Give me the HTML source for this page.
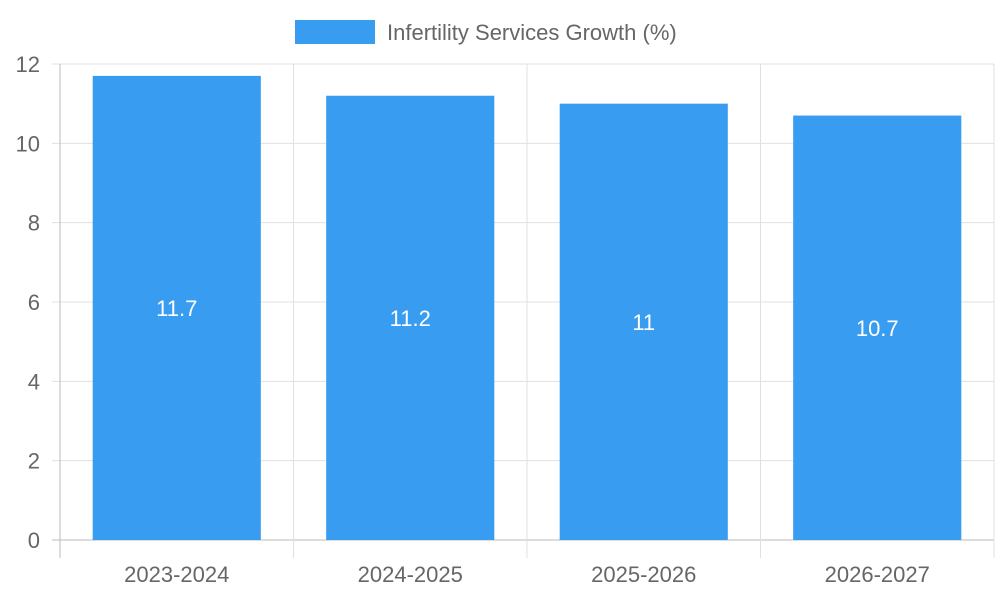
<!DOCTYPE html>
<html><head><meta charset="utf-8"><style>
body{margin:0;background:#fff;}
svg{display:block;font-family:"Liberation Sans",sans-serif;}
</style></head><body>
<svg id="chart" width="1000" height="600">
<g id="legend">
<rect x="295" y="20" width="80" height="24" fill="#389cf0"/>
<text x="387" y="40" font-size="22" fill="#666">Infertility Services Growth (%)</text>
</g>
<g id="grid"></g><g id="bars"></g><g id="axes"></g>
</svg>
<script>
const categories=["2023-2024","2024-2025","2025-2026","2026-2027"];
const values=[11.7,11.2,11,10.7];
const yTicks=[0,2,4,6,8,10,12];
const NS="http://www.w3.org/2000/svg";
const L=60,R=994,T=64,B=540,yMax=12;
const bw=(R-L)/categories.length;
const y=v=>B-(v/yMax)*(B-T);
const xc=i=>L+bw*(i+0.5);
function mk(tag,attrs,parent,text){const e=document.createElementNS(NS,tag);for(const k in attrs)e.setAttribute(k,attrs[k]);if(text!==undefined)e.textContent=text;document.getElementById(parent).appendChild(e);return e;}
yTicks.forEach(t=>{
 const g=mk('line',{x1:L-8,x2:R,y1:y(t),y2:y(t),stroke:t===0?'#bbb':'#e0e0e0','stroke-width':1},'grid');
 
 
 const lb=mk('text',{x:L-20,y:y(t)+8,'text-anchor':'end','font-size':22,fill:'#666'},'axes',String(t));
 
 
});
for(let i=0;i<=categories.length;i++){
 const gx=L+bw*i;
 const v=mk('line',{x1:gx,x2:gx,y1:T,y2:B+18,stroke:i===0?'#bbb':'#e0e0e0','stroke-width':1},'grid');
 
 
}
categories.forEach((c,i)=>{
 const w=bw*0.72;
 const r=mk('rect',{x:xc(i)-w/2,y:y(values[i]),width:w,height:B-y(values[i]),fill:'#389cf0'},'bars');
 
 
 const vl=mk('text',{x:xc(i),y:(y(values[i])+B)/2+8,'text-anchor':'middle','font-size':22,fill:'#fff'},'bars',String(values[i]));
 
 
 const xl=mk('text',{x:xc(i),y:582,'text-anchor':'middle','font-size':22,fill:'#666'},'axes',c);
 
 
});
</script>
</body></html>
